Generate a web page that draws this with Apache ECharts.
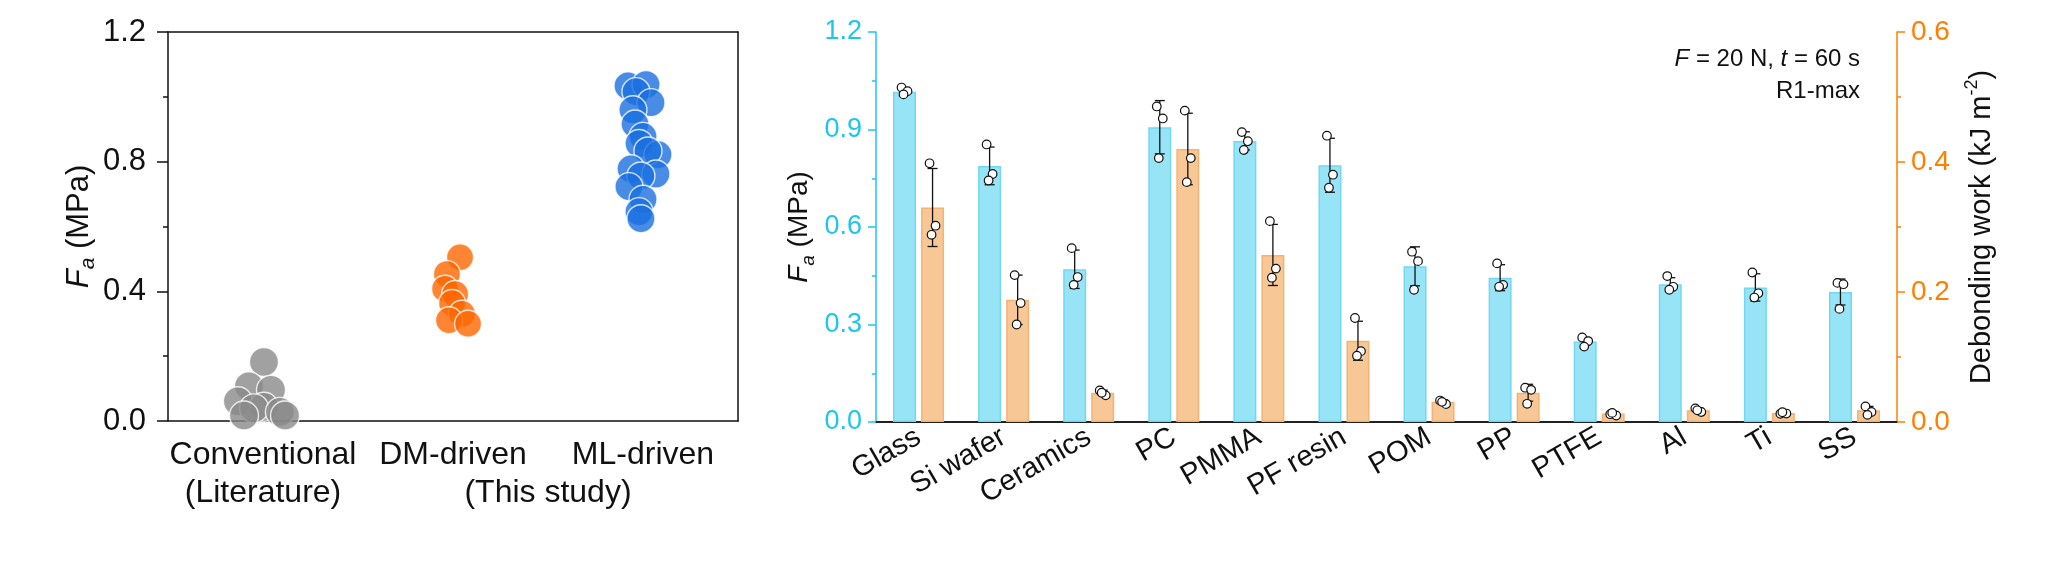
<!DOCTYPE html>
<html>
<head>
<meta charset="utf-8">
<script src="https://cdn.jsdelivr.net/npm/echarts@6/dist/echarts.min.js"></script>
<style>
  html, body { margin: 0; padding: 0; background: #fff; }
  #chart { width: 2048px; height: 561px; }
</style>
</head>
<body>
<div id="chart"></div>
<script>
// left panel: adhesion strength of each approach (x = jittered position in category units)
const groups = ['Conventional\n(Literature)', 'DM-driven', 'ML-driven'];
const conventionalPts = [[0.505, 0.182], [0.426, 0.107], [0.542, 0.096], [0.368, 0.061], [0.505, 0.044],
  [0.453, 0.039], [0.589, 0.028], [0.616, 0.017], [0.400, 0.017]];
const dmPts = [[1.537, 0.505], [1.468, 0.453], [1.458, 0.408], [1.511, 0.392], [1.495, 0.364],
  [1.547, 0.331], [1.479, 0.311], [1.579, 0.300]];
const mlPts = [[2.421, 1.034], [2.516, 1.038], [2.463, 1.016], [2.542, 0.982], [2.447, 0.960],
  [2.458, 0.916], [2.500, 0.878], [2.479, 0.856], [2.579, 0.822], [2.526, 0.833], [2.437, 0.778],
  [2.568, 0.762], [2.489, 0.756], [2.426, 0.723], [2.500, 0.684], [2.479, 0.646], [2.489, 0.624]];

// right panel: substrates
const substrates = ['Glass', 'Si wafer', 'Ceramics', 'PC', 'PMMA', 'PF resin', 'POM', 'PP', 'PTFE', 'Al', 'Ti', 'SS'];
const faMean = [1.016, 0.788, 0.470, 0.907, 0.865, 0.790, 0.479, 0.444, 0.248, 0.424, 0.414, 0.400];
const faSd = [0.010, 0.058, 0.059, 0.082, 0.028, 0.083, 0.060, 0.040, 0.012, 0.020, 0.042, 0.040];
const faPts = [[1.029, 1.018, 1.008], [0.854, 0.763, 0.743], [0.535, 0.446, 0.422], [0.971, 0.934, 0.812],
  [0.892, 0.864, 0.837], [0.881, 0.761, 0.721], [0.524, 0.495, 0.407], [0.488, 0.422, 0.416],
  [0.260, 0.249, 0.232], [0.449, 0.416, 0.407], [0.460, 0.396, 0.383], [0.428, 0.424, 0.348]];
const workMean = [0.330, 0.188, 0.045, 0.420, 0.257, 0.125, 0.031, 0.045, 0.013, 0.018, 0.014, 0.018];
const workSd = [0.060, 0.038, 0.004, 0.055, 0.047, 0.030, 0.003, 0.013, 0.002, 0.003, 0.001, 0.006];
const workPts = [[0.398, 0.302, 0.288], [0.226, 0.183, 0.150], [0.0485, 0.041, 0.045], [0.479, 0.406, 0.369],
  [0.309, 0.236, 0.222], [0.160, 0.109, 0.102], [0.033, 0.0275, 0.031], [0.0528, 0.0495, 0.028],
  [0.012, 0.010, 0.014], [0.021, 0.0154, 0.018], [0.0127, 0.013, 0.015], [0.024, 0.0154, 0.011]];

const FONT = "'Liberation Sans', Arial, sans-serif";
const CYAN = '#1EC6EE';
const ORANGE = '#FF8000';
const BAR_W = 0.27, BAR_GAP = 0.22;
const JITTER = [-3, 3, -1];

const chart = echarts.init(document.getElementById('chart'));

function errRender(side) {
  return function (params, api) {
    const idx = api.value(0);
    const mean = api.value(1), sd = api.value(2);
    const band = api.size([1, 0])[0];
    const w = band * BAR_W;
    const off = side * w * (1 + BAR_GAP) / 2;
    const c = api.coord([idx, mean]);
    const x = c[0] + off;
    const yt = api.coord([idx, mean + sd])[1];
    const yb = api.coord([idx, mean - sd])[1];
    const ls = { stroke: '#111', lineWidth: 1.3 };
    const children = [
      { type: 'line', shape: { x1: x, y1: yt, x2: x, y2: yb }, style: ls },
      { type: 'line', shape: { x1: x - 5, y1: yt, x2: x + 5, y2: yt }, style: ls },
      { type: 'line', shape: { x1: x - 5, y1: yb, x2: x + 5, y2: yb }, style: ls }
    ];
    for (let k = 0; k < 3; k++) {
      const p = api.coord([idx, api.value(3 + k)]);
      children.push({ type: 'circle', shape: { cx: x + JITTER[k], cy: p[1], r: 4.3 },
        style: { fill: '#fff', stroke: '#111', lineWidth: 1.2 } });
    }
    return { type: 'group', children: children };
  };
}

const dotStyle = (color) => ({ color: color, borderColor: '#fff', borderWidth: 1.4 });

const option = {
  animation: false,
  textStyle: { fontFamily: FONT },
  grid: [
    { left: 168, top: 32, width: 570, height: 389 },
    { left: 876, top: 32, width: 1021, height: 390 }
  ],
  xAxis: [
    { gridIndex: 0, type: 'category', data: groups, position: 'bottom',
      axisLine: { lineStyle: { color: '#111', width: 1.5 } },
      axisTick: { alignWithLabel: true, length: 10, lineStyle: { color: '#111', width: 1.5 } },
      axisLabel: { color: '#111', fontSize: 32, fontFamily: FONT, margin: 15, lineHeight: 38, interval: 0 } },
    { gridIndex: 0, type: 'value', min: 0, max: 3, position: 'top',
      axisLine: { show: true, onZero: false, lineStyle: { color: '#111', width: 1.5 } },
      axisTick: { show: false }, axisLabel: { show: false }, splitLine: { show: false } },
    { gridIndex: 1, type: 'category', data: substrates, position: 'bottom',
      axisLine: { lineStyle: { color: '#222', width: 2 } },
      axisTick: { show: false },
      axisLabel: { color: '#111', fontSize: 29, fontFamily: FONT, rotate: 30, margin: 13, interval: 0 } },
    { gridIndex: 1, type: 'category', data: substrates, position: 'top',
      axisLine: { lineStyle: { color: '#222', width: 1.5 } },
      axisTick: { show: false }, axisLabel: { show: false } }
  ],
  yAxis: [
    { gridIndex: 0, type: 'value', min: 0, max: 1.2, interval: 0.4,
      name: '{i|F}{s|a} (MPa)', nameLocation: 'middle', nameGap: 84,
      nameTextStyle: { color: '#111', fontSize: 31, fontFamily: FONT, lineHeight: 40, verticalAlign: 'middle',
        rich: { i: { fontStyle: 'italic', fontSize: 31, lineHeight: 40, fontFamily: FONT, verticalAlign: 'middle' },
                s: { fontStyle: 'italic', fontSize: 21, lineHeight: 40, fontFamily: FONT, verticalAlign: 'bottom' } } },
      axisLine: { show: true, lineStyle: { color: '#111', width: 1.5 } },
      axisTick: { show: true, length: 11, lineStyle: { color: '#111', width: 1.5 } },
      minorTick: { show: true, splitNumber: 2, length: 5, lineStyle: { color: '#111', width: 1.5 } },
      axisLabel: { color: '#111', fontSize: 31, fontFamily: FONT, margin: 22, formatter: v => v.toFixed(1) },
      splitLine: { show: false } },
    { gridIndex: 0, type: 'value', min: 0, max: 1.2, position: 'right',
      axisLine: { show: true, lineStyle: { color: '#111', width: 1.5 } },
      axisTick: { show: false }, axisLabel: { show: false }, splitLine: { show: false } },
    { gridIndex: 1, type: 'value', min: 0, max: 1.2, interval: 0.3,
      name: '{i|F}{s|a} (MPa)', nameLocation: 'middle', nameGap: 58,
      nameTextStyle: { color: '#111', fontSize: 28, fontFamily: FONT, lineHeight: 38,
        rich: { i: { fontStyle: 'italic', fontSize: 28, lineHeight: 38, fontFamily: FONT, verticalAlign: 'middle' },
                s: { fontStyle: 'italic', fontSize: 19, lineHeight: 38, fontFamily: FONT, verticalAlign: 'bottom' } } },
      axisLine: { show: true, lineStyle: { color: CYAN, width: 1.5 } },
      axisTick: { show: true, length: 8, lineStyle: { color: CYAN, width: 1.5 } },
      minorTick: { show: true, splitNumber: 2, length: 4, lineStyle: { color: CYAN, width: 1.5 } },
      axisLabel: { color: CYAN, fontSize: 27, fontFamily: FONT, margin: 14, formatter: v => v.toFixed(1) },
      splitLine: { show: false } },
    { gridIndex: 1, type: 'value', min: 0, max: 0.6, interval: 0.2, position: 'right',
      name: 'Debonding work (kJ m{sup|-2})', nameLocation: 'middle', nameGap: 66, nameRotate: 90,
      nameTextStyle: { color: '#111', fontSize: 29, fontFamily: FONT, lineHeight: 38,
        rich: { sup: { fontSize: 18, lineHeight: 38, fontFamily: FONT, verticalAlign: 'top' } } },
      axisLine: { show: true, lineStyle: { color: ORANGE, width: 1.5 } },
      axisTick: { show: true, length: 8, lineStyle: { color: ORANGE, width: 1.5 } },
      minorTick: { show: true, splitNumber: 2, length: 4, lineStyle: { color: ORANGE, width: 1.5 } },
      axisLabel: { color: ORANGE, fontSize: 28, fontFamily: FONT, margin: 14, formatter: v => v.toFixed(1) },
      splitLine: { show: false } }
  ],
  series: [
    { type: 'scatter', xAxisIndex: 1, yAxisIndex: 0, symbolSize: 29, data: conventionalPts, itemStyle: dotStyle('#8A8A8A') },
    { type: 'scatter', xAxisIndex: 1, yAxisIndex: 0, symbolSize: 27, data: dmPts, itemStyle: dotStyle('#FF6600') },
    { type: 'scatter', xAxisIndex: 1, yAxisIndex: 0, symbolSize: 28, data: mlPts, itemStyle: dotStyle('#1A6FE0') },
    { type: 'bar', xAxisIndex: 2, yAxisIndex: 2, data: faMean, barWidth: (BAR_W * 100) + '%', barGap: (BAR_GAP * 100) + '%',
      itemStyle: { color: '#98E4F7', borderColor: '#70D8F3', borderWidth: 1.5 } },
    { type: 'bar', xAxisIndex: 2, yAxisIndex: 3, data: workMean, barWidth: (BAR_W * 100) + '%',
      itemStyle: { color: '#F7C795', borderColor: '#F4B273', borderWidth: 1.5 } },
    { type: 'custom', xAxisIndex: 2, yAxisIndex: 2, renderItem: errRender(-1), z: 5,
      encode: { x: 0, y: 1 },
      data: faMean.map((m, i) => [i, m, faSd[i]].concat(faPts[i])) },
    { type: 'custom', xAxisIndex: 2, yAxisIndex: 3, renderItem: errRender(1), z: 5,
      encode: { x: 0, y: 1 },
      data: workMean.map((m, i) => [i, m, workSd[i]].concat(workPts[i])) }
  ]
};
chart.setOption(option);

// shared second line under the two data-driven groups, and the condition note
const pDM = chart.convertToPixel({ xAxisIndex: 0 }, 'DM-driven');
const pML = chart.convertToPixel({ xAxisIndex: 0 }, 'ML-driven');
chart.setOption({
  graphic: [
    { type: 'text', x: (pDM + pML) / 2, y: 493,
      style: { text: '(This study)', fill: '#111', fontSize: 32, fontFamily: FONT, align: 'center', verticalAlign: 'middle' } },
    { type: 'text', x: 1860, y: 59,
      style: { text: '{i|F} = 20 N, {i|t} = 60 s', fill: '#111', fontSize: 24, fontFamily: FONT,
        align: 'right', verticalAlign: 'middle',
        rich: { i: { fontStyle: 'italic', fontSize: 24, fontFamily: FONT } } } },
    { type: 'text', x: 1860, y: 91,
      style: { text: 'R1-max', fill: '#111', fontSize: 24, fontFamily: FONT, align: 'right', verticalAlign: 'middle' } }
  ]
});
</script>
</body>
</html>
